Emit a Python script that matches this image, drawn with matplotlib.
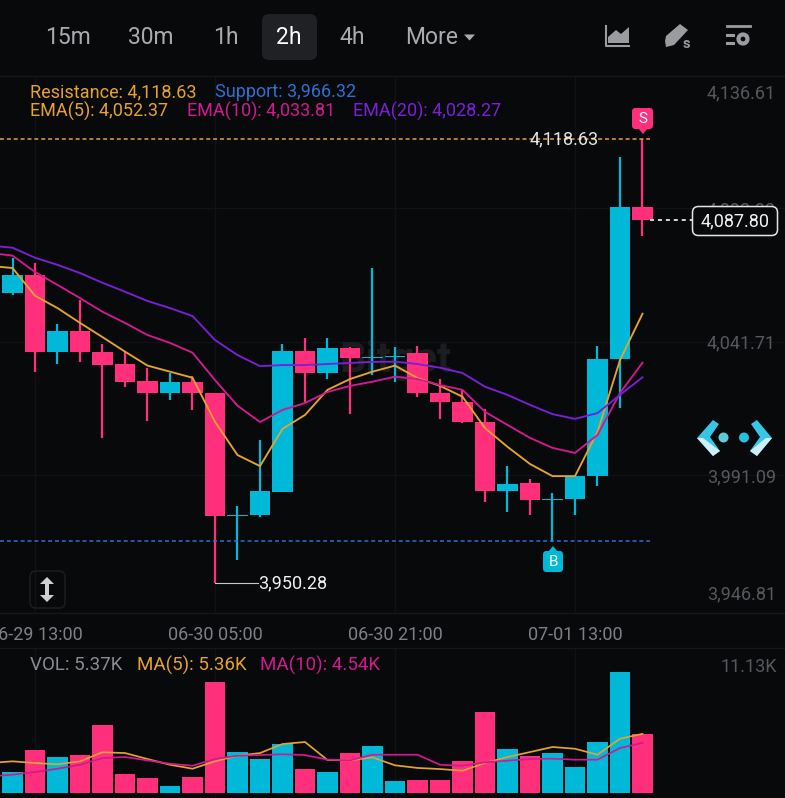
import matplotlib
matplotlib.use("Agg")
import matplotlib.pyplot as plt
from matplotlib.patches import FancyBboxPatch, Polygon, Circle, Rectangle

plt.rcParams['font.family'] = ['Roboto', 'DejaVu Sans']

# ---------- data ----------
opens = [4072.0, 4060.1, 4067.1, 4037.98, 4045.8, 4037.98, 4033.3, 4026.9, 4022.3, 4026.6, 4022.3, 3975.8, 3976.1, 3984.9, 4038.4, 4029.9,
         4039.4, 4035.6, 4036.0, 4037.5, 4022.3, 4018.9, 4011.4, 3985.2, 3988.2, 3981.7, 3982.1, 3991.0, 4035.2, 4092.8]
closes = [4057.6, 4067.1, 4037.98, 4045.8, 4037.98, 4032.9, 4026.6, 4022.3, 4026.6, 4022.3, 3975.8, 3976.2, 3985.2, 4038.4, 4029.9, 4039.4,
          4035.6, 4036.0, 4036.3, 4022.3, 4018.9, 4011.4, 3985.2, 3987.8, 3981.7, 3982.0, 3991.0, 4035.2, 4092.8, 4087.80]
highs = [4076.0, 4073.5, 4071.6, 4048.5, 4057.6, 4040.9, 4038.0, 4031.8, 4029.9, 4028.9, 4022.4, 3979.5, 4004.5, 4040.9, 4043.3, 4043.2,
         4039.9, 4069.7, 4039.9, 4040.3, 4027.6, 4023.5, 4016.2, 3994.6, 3989.7, 3984.4, 3991.0, 4040.1, 4111.9, 4118.63]
lows = [4055.0, 4059.5, 4030.4, 4033.3, 4034.1, 4005.2, 4024.6, 4011.7, 4019.7, 4015.9, 3950.28, 3959.0, 3975.4, 3984.9, 4018.5, 4027.6,
        4014.3, 4029.1, 4026.6, 4020.9, 4012.4, 4011.0, 3981.0, 3977.3, 3976.1, 3966.0, 3976.1, 3987.2, 4016.7, 4082.0]
ema5 = [4070.5, 4069.7, 4059.2, 4054.5, 4048.9, 4043.5, 4038.0, 4032.7, 4030.4, 4028.1, 4011.4, 3998.8, 3994.6, 4008.7, 4014.0, 4023.5, 4027.6,
        4030.4, 4032.7, 4028.0, 4025.0, 4020.9, 4009.0, 4001.9, 3995.4, 3990.8, 3990.8, 4007.6, 4034.8, 4052.37]
ema10 = [4075.4, 4074.4, 4068.2, 4063.3, 4058.3, 4053.1, 4048.9, 4044.3, 4041.3, 4037.6, 4027.2, 4017.5, 4011.3, 4015.9, 4018.5, 4022.7, 4025.0,
         4026.6, 4028.5, 4027.6, 4025.3, 4023.5, 4015.2, 4010.2, 4005.3, 4001.5, 3999.6, 4006.4, 4022.3, 4033.81]
ema20 = [4078.2, 4077.4, 4073.6, 4070.9, 4067.8, 4064.1, 4060.7, 4057.2, 4054.5, 4051.5, 4042.4, 4036.7, 4032.5, 4032.9, 4032.9, 4033.3, 4033.7,
         4034.1, 4034.2, 4033.3, 4031.9, 4029.9, 4024.7, 4021.6, 4017.8, 4014.3, 4012.5, 4014.7, 4021.6, 4028.27]
volume = [2.36, 1.90, 3.92, 3.23, 3.47, 6.19, 1.69, 1.39, 0.61, 1.45, 10.06, 3.69, 3.11, 4.47, 2.20, 1.90, 3.62, 4.29, 1.06, 1.15, 1.20, 2.87,
          7.31, 4.01, 3.38, 3.62, 2.33, 4.59, 10.94, 5.37]
vol_ma5 = [2.72, 2.87, 2.72, 2.60, 2.87, 3.69, 3.62, 3.08, 2.56, 2.20, 2.87, 3.38, 3.62, 4.44, 4.62, 2.99, 2.96, 3.23, 2.51, 2.27, 2.17, 2.02,
           2.72, 3.26, 3.71, 4.17, 4.01, 3.47, 4.92, 5.36]
vol_ma10 = [1.51, 1.66, 1.90, 2.20, 2.56, 3.17, 3.26, 2.96, 2.65, 2.47, 3.08, 3.38, 3.44, 3.51, 3.44, 3.02, 2.96, 3.47, 3.47, 3.47, 2.56, 2.47,
            2.78, 2.93, 3.08, 3.11, 3.02, 3.02, 4.08, 4.54]
price_ticks = [4136.61, 4092.33, 4041.71, 3991.09, 3946.81]
price_tick_labels = ["4,136.61", "4,092.33", "4,041.71", "3,991.09", "3,946.81"]
grid_prices = [4092.33, 4041.71, 3991.09]
date_idx = [1, 9, 17, 25]
date_labels = ["06-29 13:00", "06-30 05:00", "06-30 21:00", "07-01 13:00"]
timeframes = ["15m", "30m", "1h", "2h", "4h", "More"]
resistance, support, last_price, low_price, high_price = 4118.63, 3966.32, 4087.80, 3950.28, 4118.63

# ---------- style ----------
BG = "#08090b"
TEAL = "#00b9d9"
PINK = "#ff2f7b"
ORANGE = "#e5a230"
MAGENTA = "#d11a8f"
PURPLE = "#7a1fd8"
BLUE = "#2f6fd0"
GRID = "#101215"
W, H = 785, 798

fig = plt.figure(figsize=(W / 100, H / 100), dpi=100, facecolor=BG)


def rect(y0, y1):
    return [0, 1 - y1 / H, 1, (y1 - y0) / H]


x_vals = list(range(-1, 29))
xlim = ((0 - 12.5) / 22.5, (W - 12.5) / 22.5)

# ---------- price panel ----------
ax = fig.add_axes(rect(76, 613), facecolor=BG)
ax.set_xlim(*xlim)
ax.set_ylim(3938.9, 4142.5)
for s in ax.spines.values():
    s.set_visible(False)
for p in grid_prices:
    ax.axhline(p, color=GRID, lw=1, zorder=0)
for d in date_idx:
    ax.axvline(d, color=GRID, lw=1, zorder=0)
ax.text(17, 4034.5, "Bitget", color="#1c1d20", fontsize=30, fontweight="bold", va="center", ha="center", zorder=1)
for x, o, c, h, l in zip(x_vals, opens, closes, highs, lows):
    col = TEAL if c >= o else PINK
    ax.vlines(x, l, h, color=col, lw=1.6, zorder=2)
    ax.bar(x, abs(c - o), bottom=min(o, c), width=0.92, color=col, zorder=2, lw=0)
ax.plot(x_vals, ema5, color=ORANGE, lw=1.35, zorder=3)
ax.plot(x_vals, ema10, color=MAGENTA, lw=1.35, zorder=3)
ax.plot(x_vals, ema20, color=PURPLE, lw=1.35, zorder=3)
ax.hlines(resistance, xlim[0], 28.33, color=ORANGE, lw=1.1, linestyles=(0, (2.6, 1.9)), zorder=2)
ax.hlines(support, xlim[0], 28.33, color=BLUE, lw=1.1, linestyles=(0, (2.6, 1.9)), zorder=2)
ax.hlines(last_price, 28.33, 30.2, color="#e8e8e8", lw=1.3, linestyles=(0, (2.2, 2.2)), zorder=2)
ax.plot([9, 10.9], [low_price, low_price], color="#c8c8c8", lw=0.8, zorder=4)
ax.text(10.92, low_price, f"{low_price:,.2f}", color="#f0f0f0", fontsize=13, va="center", ha="left", zorder=5)
ax.text(24.5, high_price, f"{high_price:,.2f}", color="#e4e4e4", fontsize=13, va="center", ha="center", zorder=5)
ax.set_xticks(date_idx, date_labels)
ax.set_yticks(price_ticks, price_tick_labels)
ax.yaxis.tick_right()
ax.tick_params(axis='x', length=0, pad=9, labelsize=13, labelcolor="#7d8085")
ax.tick_params(axis='y', length=0, pad=-6.5, labelsize=13, labelcolor="#55585c")
for t in ax.get_yticklabels():
    t.set_ha("right")

# ---------- volume panel ----------
axv = fig.add_axes(rect(648, 798), facecolor=BG)
axv.set_xlim(*xlim)
axv.set_ylim(-0.453, 13.14)
axv.axis("off")
for d in date_idx:
    axv.axvline(d, color=GRID, lw=1, zorder=0)
vol_cols = [TEAL if c >= o else PINK for o, c in zip(opens, closes)]
axv.bar(x_vals, volume, width=0.92, color=vol_cols, lw=0, zorder=2)
axv.plot(x_vals, vol_ma5, color=ORANGE, lw=1.25, zorder=3)
axv.plot(x_vals, vol_ma10, color=MAGENTA, lw=1.25, zorder=3)

# ---------- overlay in pixels ----------
ui = fig.add_axes([0, 0, 1, 1], facecolor="none")
ui.set_xlim(0, W)
ui.set_ylim(H, 0)
ui.axis("off")
for y in (76, 613, 648):
    ui.plot([0, W], [y, y], color="#15171a", lw=1, zorder=1)

# tabs
ui.add_patch(FancyBboxPatch((268, 20), 43, 34, boxstyle="round,pad=6,rounding_size=7", fc="#1f2124", ec="none", zorder=1))
tab_x = [68, 151, 226, 289, 352, 405]
for x, lab in zip(tab_x, timeframes):
    ui.text(x, 37.5, lab, color="#ffffff" if lab == "2h" else "#a9abae", fontsize=16.5, va="center",
            ha="left" if lab == "More" else "center", zorder=3)
ui.add_patch(Polygon([(464, 34.5), (475, 34.5), (469.5, 40.5)], fc="#a9abae", ec="none"))

# icons
ICON = "#9a9c9f"
ui.add_patch(Polygon([(608, 43), (608, 37), (616, 30), (621, 34), (629, 27), (629, 43)], fc=ICON, ec="none"))
ui.plot([605.5, 605.5, 629], [26, 46, 46], color=ICON, lw=1.5)
ui.add_patch(Polygon([(665, 41), (666, 36), (680, 24), (688, 30), (674, 45), (666, 47)], fc=ICON, ec="none"))
ui.text(686, 44.5, "s", color=ICON, fontsize=10.5, fontweight="bold", va="center", ha="center")
ui.plot([727, 750], [25.5, 25.5], color=ICON, lw=2)
ui.plot([727, 733], [35, 35], color=ICON, lw=2.2)
ui.plot([727, 733], [43, 43], color=ICON, lw=2.2)
ui.add_patch(Circle((743, 39), 4.5, fc="none", ec=ICON, lw=3))

# indicator legends
ui.text(30, 92, "Resistance: 4,118.63", color=ORANGE, fontsize=13, va="center", ha="left")
ui.text(215, 92, "Support: 3,966.32", color=BLUE, fontsize=13, va="center", ha="left")
ui.text(30, 111, "EMA(5): 4,052.37", color=ORANGE, fontsize=13, va="center", ha="left")
ui.text(187, 111, "EMA(10): 4,033.81", color=MAGENTA, fontsize=13, va="center", ha="left")
ui.text(353, 111, "EMA(20): 4,028.27", color=PURPLE, fontsize=13, va="center", ha="left")
ui.text(30, 665, "VOL: 5.37K", color="#8a8d91", fontsize=13.5, va="center", ha="left")
ui.text(137, 665, "MA(5): 5.36K", color=ORANGE, fontsize=13.5, va="center", ha="left")
ui.text(260, 665, "MA(10): 4.54K", color=MAGENTA, fontsize=13.5, va="center", ha="left")
ui.text(777, 667, "11.13K", color="#55585c", fontsize=13, va="center", ha="right")

# last price tag
ui.add_patch(FancyBboxPatch((695, 209), 80, 24, boxstyle="round,pad=2.5,rounding_size=6", fc=BG, ec="#e4e4e4", lw=1.1, zorder=6))
ui.text(735, 221, "4,087.80", color="#f2f2f2", fontsize=13, va="center", ha="center", zorder=7)

# S / B flags
ui.add_patch(FancyBboxPatch((634, 110), 17, 17, boxstyle="round,pad=2,rounding_size=3.5", fc=PINK, ec="none", zorder=6))
ui.add_patch(Polygon([(638, 128), (648, 128), (643, 134)], fc=PINK, ec="none", zorder=6))
ui.text(642.5, 119, "S", color="white", fontsize=11, va="center", ha="center", zorder=7)
ui.add_patch(FancyBboxPatch((545, 553), 16, 17, boxstyle="round,pad=2,rounding_size=3.5", fc=TEAL, ec="none", zorder=6))
ui.add_patch(Polygon([(548, 552), (558, 552), (553, 546)], fc=TEAL, ec="none", zorder=6))
ui.text(553, 562, "B", color="white", fontsize=11, va="center", ha="center", zorder=7)

# scroll button
ui.add_patch(FancyBboxPatch((33, 574), 29, 31, boxstyle="round,pad=3,rounding_size=6", fc="none", ec="#1a1c1f", lw=1.2, zorder=2))
ui.add_patch(Polygon([(40, 584), (47, 577), (54, 584)], fc="#cfcfcf", ec="none", zorder=3))
ui.add_patch(Polygon([(40, 595), (47, 602), (54, 595)], fc="#cfcfcf", ec="none", zorder=3))
ui.add_patch(Rectangle((45, 583), 4, 13, fc="#cfcfcf", ec="none", zorder=3))

# Bitget logo
ui.add_patch(Polygon([(713, 420), (719, 424), (710, 437), (720, 451), (713, 456), (697, 438)], fc="#37c6e6", ec="none", zorder=3))
ui.add_patch(Polygon([(751, 424), (757, 420), (772, 438), (757, 456), (750, 451), (760, 437)], fc="#37c6e6", ec="none", zorder=3))
ui.add_patch(Polygon([(697, 438), (703, 438), (720, 451), (713, 456)], fc="#cfeef6", ec="none", zorder=4))
ui.add_patch(Polygon([(766, 438), (772, 438), (757, 456), (750, 451)], fc="#cfeef6", ec="none", zorder=4))
ui.add_patch(Circle((723.5, 437.5), 5, fc="#5fc9dc", ec="none", zorder=3))
ui.add_patch(Circle((744, 437.5), 5, fc="#25c0dc", ec="none", zorder=3))

fig.savefig("out.png", dpi=100, facecolor=BG)
